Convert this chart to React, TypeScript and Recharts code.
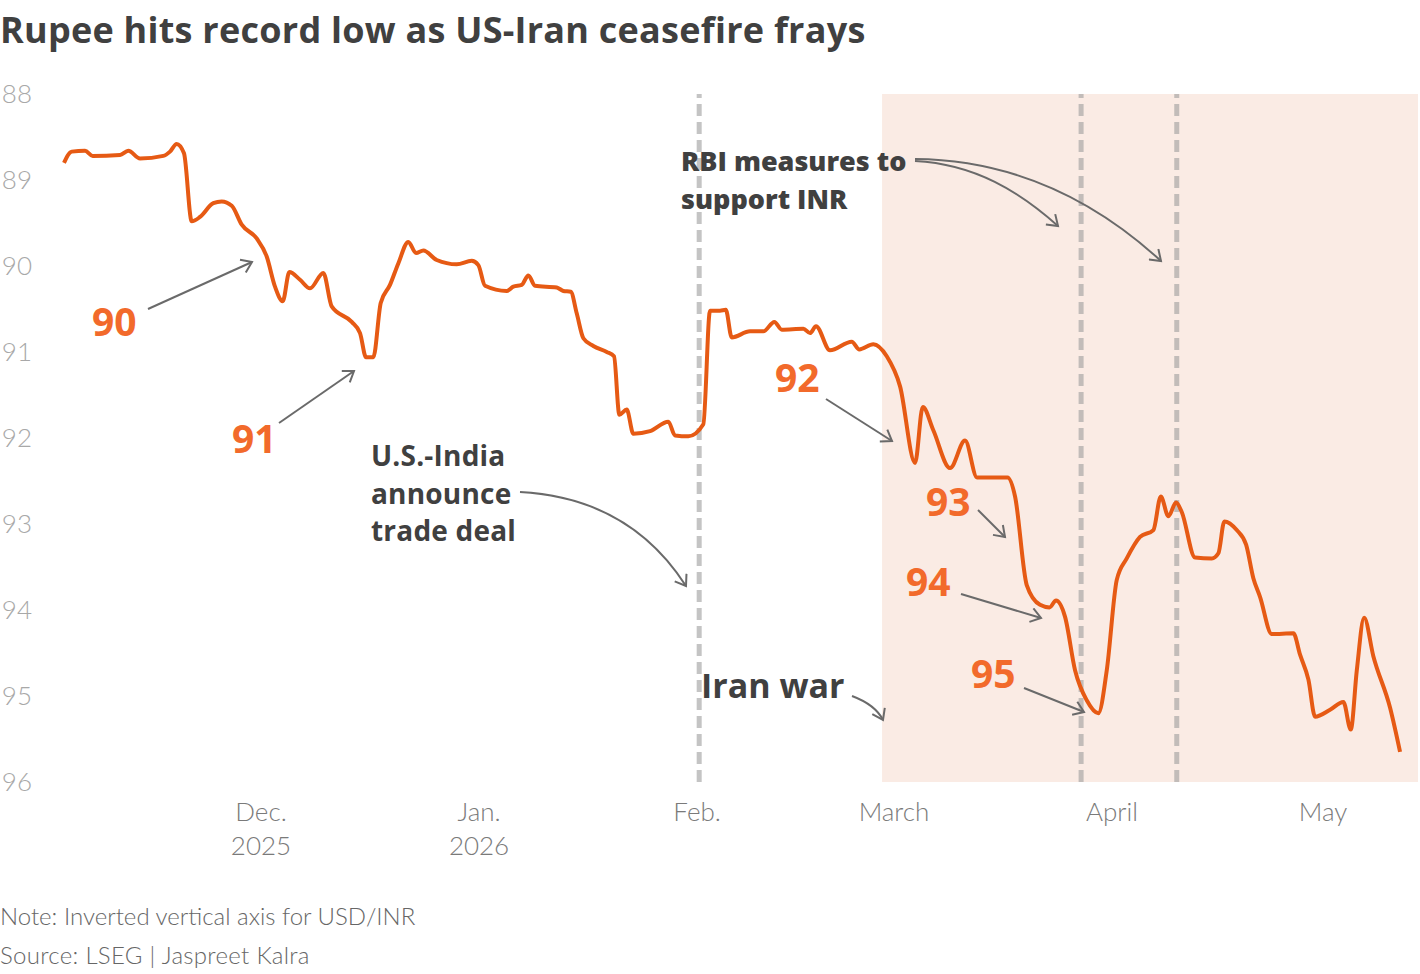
import React from 'react';
import { LineChart, Line, XAxis, YAxis, ReferenceArea, ReferenceLine } from 'recharts';

// Day offsets counted from 1 Nov 2025, and USD/INR closes at those days
const dayOffsets = [
  1.99, 3.09, 4.98, 6.07, 9.95, 11.13, 12.8, 16.11, 17.06, 18.01, 19.05, 20.15, 21.33, 23.22, 24.41, 25.84,
  27.26, 29.39, 30.81, 31.99, 33.09, 34.03, 35.55, 36.97, 38.86, 40.05, 42.9, 44.08, 44.93, 45.97, 47.02,
  48.34, 49.52, 50.95, 52.04, 53.08, 54.98, 57.83, 59.96, 60.9, 61.85, 64.94, 65.88, 67.07, 68.01, 68.96,
  72.05, 72.99, 74.04, 74.89, 75.83, 77.25, 79.16, 80.19, 80.95, 82.0, 82.94, 85.31, 87.91, 88.87, 90.76,
  92.89, 93.84, 95.26, 96.08, 96.93, 99.53, 101.42, 102.99, 104.04, 107.11, 108.06, 108.91, 110.9, 113.99,
  115.07, 117.06, 118.97, 120.86, 122.99, 124.09, 125.59, 127.97, 130.1, 131.81, 136.14, 137.21, 138.87,
  140.76, 142.09, 143.04, 144.32, 145.74, 147.4, 149.05, 150.25, 151.67, 153.09, 154.98, 156.88, 157.93,
  159.01, 160.1, 160.91, 162.8, 165.18, 166.12, 166.97, 168.73, 170.06, 171.09, 172.05, 173.71, 176.78,
  177.73, 178.92, 179.87, 182.0, 183.89, 184.94, 185.8, 186.84, 188.16, 190.54, 191.95,
];

const usdInr = [
  88.8, 88.67, 88.66, 88.72, 88.71, 88.66, 88.75, 88.72, 88.67, 88.58, 88.69, 89.48, 89.43, 89.27, 89.25, 89.3,
  89.52, 89.68, 89.89, 90.24, 90.41, 90.07, 90.16, 90.26, 90.08, 90.47, 90.65, 90.78, 91.06, 91.06, 90.43,
  90.22, 89.97, 89.72, 89.85, 89.82, 89.93, 89.98, 89.94, 89.99, 90.23, 90.29, 90.24, 90.22, 90.11, 90.23,
  90.25, 90.29, 90.3, 90.55, 90.84, 90.93, 91.0, 91.05, 91.73, 91.67, 91.95, 91.92, 91.81, 91.97, 91.98,
  91.84, 90.52, 90.52, 90.51, 90.83, 90.76, 90.76, 90.65, 90.74, 90.73, 90.78, 90.7, 90.98, 90.88,
  90.97, 90.91, 91.05, 91.4, 92.29, 91.64, 91.91, 92.35, 92.03, 92.46, 92.46, 92.68, 93.71,
  93.94, 93.97, 93.89, 94.08, 94.7, 95.05, 95.2, 94.7, 93.65, 93.4, 93.15, 93.07, 92.68,
  92.91, 92.75, 92.86, 93.39, 93.4, 93.34, 92.97, 93.07, 93.24, 93.63, 93.85, 94.28, 94.27,
  94.52, 94.81, 95.24, 95.16, 95.07, 95.39, 94.7, 94.09, 94.54, 95.14, 95.65,
];

const monthTicks = [30, 61, 92, 120, 151, 181];
const monthLabels = [['Dec.', '2025'], ['Jan.', '2026'], ['Feb.'], ['March'], ['April'], ['May']];
const rateTicks = [88, 89, 90, 91, 92, 93, 94, 95, 96];

const tradeDealDay = 92.3;
const rbiMeasureDays = [146.6, 160.2];
const iranWarStartDay = 118.3;
const xDomain = [-2.275, 194.5];

const rows = dayOffsets.map((day, i) => ({ day, rate: usdInr[i] }));

const FONT = 'Lato, "Noto Sans", sans-serif';
const BOLD_FONT = '"Open Sans", Lato, sans-serif';
const LINE_COLOR = '#E65A14';
const LABEL_ORANGE = '#F26A2B';
const DARK = '#404040';
const ARROW = '#6a6a6a';

const XTick = (props: any) => {
  const { x, y, payload } = props;
  const idx = monthTicks.indexOf(payload.value);
  const lines = idx >= 0 ? monthLabels[idx] : [];
  return (
    <text x={x} y={y} textAnchor="middle" fontFamily={FONT} fontWeight={300} fontSize={26} fill="#7a7a7a">
      {lines.map((l, i) => (
        <tspan key={i} x={x} dy={i === 0 ? 39 : 34}>
          {l}
        </tspan>
      ))}
    </text>
  );
};

const YTick = (props: any) => {
  const { x, y, payload } = props;
  return (
    <text x={x} y={y} dy={9} textAnchor="end" fontFamily={FONT} fontWeight={300} fontSize={26} fill="#a8a8a8">
      {payload.value}
    </text>
  );
};

const Arrow = ({ d }: { d: string }) => (
  <path d={d} fill="none" stroke={ARROW} strokeWidth={2} markerEnd="url(#chev)" />
);

const OrangeLabel = ({ x, y, t }: { x: number; y: number; t: string }) => (
  <text x={x} y={y} fontFamily={BOLD_FONT} fontWeight={700} fontSize={39} fill={LABEL_ORANGE} letterSpacing={0}>
    {t}
  </text>
);

export default function App() {
  return (
    <div style={{ position: 'relative', width: 1420, height: 974, background: '#fff', fontFamily: FONT }}>
      <style>{`body{margin:0}`}</style>
      <div style={{ position: 'absolute', left: 0, top: 0 }}>
        <LineChart width={1420} height={974} data={rows} margin={{ top: 94, right: 2, bottom: 112, left: 0 }}>
          <ReferenceArea x1={iranWarStartDay} x2={xDomain[1]} y1={88} y2={96} fill="#FAEBE4" fillOpacity={1} stroke="none" ifOverflow="hidden" />
          <ReferenceLine x={tradeDealDay} stroke="#c4c4c4" strokeWidth={5} strokeDasharray="12 6" />
          {rbiMeasureDays.map((d) => (
            <ReferenceLine key={d} x={d} stroke="#c2bcb9" strokeWidth={5} strokeDasharray="12 6" />
          ))}
          <XAxis
            dataKey="day"
            type="number"
            domain={xDomain}
            allowDataOverflow
            ticks={monthTicks}
            tick={<XTick />}
            tickLine={false}
            axisLine={false}
            tickSize={0}
            tickMargin={0}
            height={80}
            interval={0}
          />
          <YAxis
            type="number"
            domain={[88, 96]}
            reversed
            ticks={rateTicks}
            tick={<YTick />}
            tickLine={false}
            axisLine={false}
            tickSize={0}
            tickMargin={2}
            width={34}
            interval={0}
          />
          <Line
            type="monotone"
            dataKey="rate"
            stroke={LINE_COLOR}
            strokeWidth={4}
            dot={false}
            isAnimationActive={false}
          />
        </LineChart>
      </div>
      <svg width={1420} height={974} style={{ position: 'absolute', left: 0, top: 0, pointerEvents: 'none' }}>
        <defs>
          <marker id="chev" markerWidth="16" markerHeight="16" refX="12" refY="8" orient="auto" markerUnits="userSpaceOnUse">
            <path d="M2,1 L12,8 L2,15" fill="none" stroke={ARROW} strokeWidth={2} />
          </marker>
        </defs>
        <text x={0} y={43} fontFamily={BOLD_FONT} fontWeight={700} fontSize={36} fill={DARK} letterSpacing={0.25}>
          Rupee hits record low as US-Iran ceasefire frays
        </text>

        <OrangeLabel x={92} y={336} t="90" />
        <Arrow d="M148,309 L252,262" />
        <OrangeLabel x={232} y={453} t="91" />
        <Arrow d="M279,423 L354,371" />
        <OrangeLabel x={775} y={392} t="92" />
        <Arrow d="M826,399 L892,441" />
        <OrangeLabel x={926} y={516} t="93" />
        <Arrow d="M978,510 L1005,537" />
        <OrangeLabel x={906} y={596} t="94" />
        <Arrow d="M961,594 L1041,618" />
        <OrangeLabel x={971} y={688} t="95" />
        <Arrow d="M1024,688 L1084,712" />

        <text fontFamily={BOLD_FONT} fontWeight={700} fontSize={28} fill={DARK} letterSpacing={0.2}>
          <tspan x={371} y={466}>U.S.-India</tspan>
          <tspan x={371} y={504}>announce</tspan>
          <tspan x={371} y={541}>trade deal</tspan>
        </text>
        <Arrow d="M520,492 C595,496 650,530 686,586" />

        <text fontFamily={BOLD_FONT} fontWeight={700} fontSize={34} fill={DARK} x={701} y={698}>
          Iran war
        </text>
        <Arrow d="M852,696 C868,702 878,710 883,720" />

        <text fontFamily={BOLD_FONT} fontWeight={800} fontSize={27} fill={DARK} letterSpacing={0}>
          <tspan x={681} y={171}>RBI measures to</tspan>
          <tspan x={681} y={209}>support INR</tspan>
        </text>
        <Arrow d="M915,161 C975,164 1020,192 1058,226" />
        <Arrow d="M915,159 C1020,160 1100,205 1161,261" />

        <text x={0} y={925} fontFamily={FONT} fontWeight={300} fontSize={24} fill="#666">
          Note: Inverted vertical axis for USD/INR
        </text>
        <text x={0} y={964} fontFamily={FONT} fontWeight={300} fontSize={24} fill="#666" letterSpacing={0.3}>
          Source: LSEG | Jaspreet Kalra
        </text>
      </svg>
    </div>
  );
}
